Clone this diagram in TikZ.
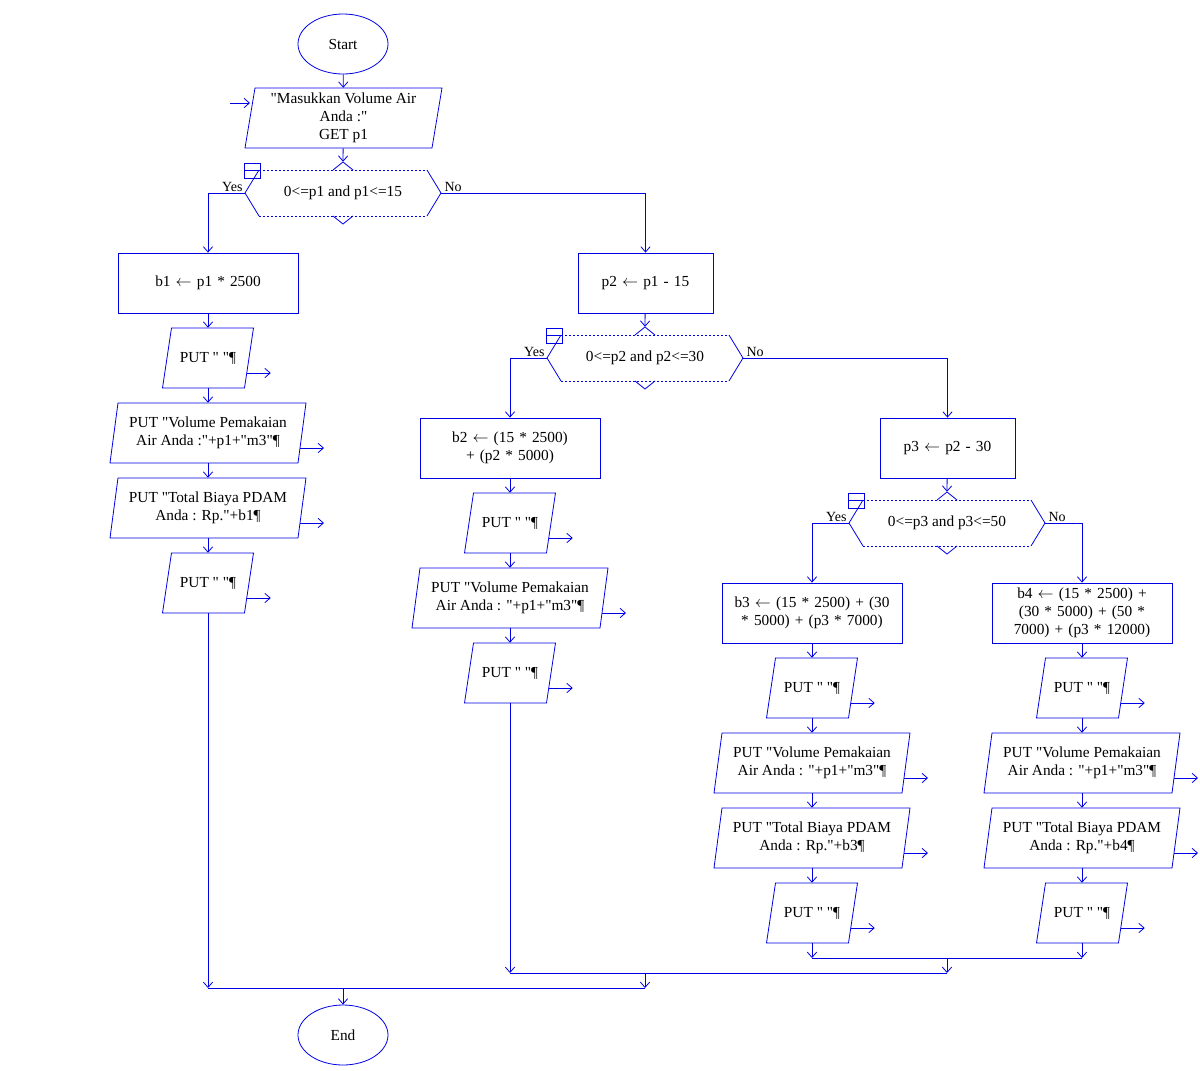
\documentclass[tikz,border=0pt]{standalone}
\usepackage{fontspec}
\setmainfont{Liberation Serif}[Ligatures=TeXOff]
\usetikzlibrary{shapes.geometric,arrows.meta,calc}
\begin{document}
\begin{tikzpicture}[x=0.75pt,y=-0.75pt,
  ln/.style={draw=blue!90!black,line width=0.6pt},
  arr/.style={ln,-{Straight Barb[length=4pt,width=7pt]}},
  txt/.style={inner sep=0pt,align=center,font=\fontsize{11.5}{13.5}\selectfont},
  lbl/.style={inner sep=0pt,font=\fontsize{10.5}{12}\selectfont}]
\useasboundingbox (0,0) rectangle (1200,1071);
\newcommand\pio[7]{%
 \node[txt,minimum width=#4*0.75pt,minimum height=#5*0.75pt] (#1) at (#2,#3) {#7};
 \draw[ln] ($(#2,#3)+({-#4/2+#6/2},{-#5/2})$) -- ($(#2,#3)+({#4/2+#6/2},{-#5/2})$)
   -- ($(#2,#3)+({#4/2-#6/2},{#5/2})$) -- ($(#2,#3)+({-#4/2-#6/2},{#5/2})$) -- cycle;}
\newcommand\pout[7]{\pio{#1}{#2}{#3}{#4}{#5}{#6}{#7}%
 \coordinate (#1o) at ($(#2,#3)+({#4/2-#6/4},15)$);
 \draw[arr] (#1o) -- ++(24,0);}
\newcommand\rbox[6]{\node[txt,ln,minimum width=#4*0.75pt,minimum height=#5*0.75pt,text width=(#4-8)*0.75pt] (#1) at (#2,#3) {#6};}
\newcommand\dec[4]{%
 \node[txt,minimum width=196*0.75pt,minimum height=62*0.75pt] (#1) at (#2,#3) {#4};
 \draw[ln,dash pattern=on 1.5pt off 1.5pt] ($(#2,#3)+(-84,-23)$) -- ($(#2,#3)+(84,-23)$);
 \draw[ln,dash pattern=on 1.5pt off 1.5pt] ($(#2,#3)+(-84,23)$) -- ($(#2,#3)+(84,23)$);
 \draw[ln] ($(#2,#3)+(-84,-23)$) -- ($(#2,#3)+(-98,0)$) -- ($(#2,#3)+(-84,23)$);
 \draw[ln] ($(#2,#3)+(84,-23)$) -- ($(#2,#3)+(98,0)$) -- ($(#2,#3)+(84,23)$);
 \draw[ln] ($(#2,#3)+(-10,-23)$) -- ($(#2,#3)+(0,-31)$) -- ($(#2,#3)+(10,-23)$);
 \draw[ln] ($(#2,#3)+(-10,23)$) -- ($(#2,#3)+(0,31)$) -- ($(#2,#3)+(10,23)$);
 \draw[ln] ($(#2,#3)+(-99,-30)$) rectangle ($(#2,#3)+(-83,-15)$);
 \draw[ln] ($(#2,#3)+(-99,-22.5)$) -- ($(#2,#3)+(-83,-22.5)$);
 \node[lbl,anchor=south east] at ($(#1.west)+(-2,-1)$) {Yes};
 \node[lbl,anchor=south west] at ($(#1.east)+(3,-1)$) {No};}
\def\pil{¶}
% start
\node[txt,ellipse,ln,minimum width=90*0.75pt,minimum height=60*0.75pt] (start) at (343,44) {Start};
\pio{in}{343.5}{118}{187}{60}{10}{"Masukkan Volume Air\\Anda :"\\GET p1}
\coordinate (entry) at (230,103);
\draw[arr] (entry) -- (250,103);
\draw[arr] (start) -- (in);
\dec{d1}{343}{193}{0<=p1 and p1<=15}
\draw[arr] (in) -- (d1.north);
% left column
\rbox{b1}{208}{283}{180}{60}{b1 $\leftarrow$ p1 * 2500}
\draw[arr] (d1.west) -| (b1.north);
\pout{l1}{208}{358}{82}{60}{9}{PUT " "\pil}
\pout{l2}{208}{433}{188}{60}{8}{PUT "Volume Pemakaian\\Air Anda :"+p1+"m3"\pil}
\pout{l3}{208}{508}{188}{60}{8}{PUT "Total Biaya PDAM\\Anda : Rp."+b1\pil}
\pout{l4}{208}{583}{82}{60}{9}{PUT " "\pil}
\draw[arr] (b1) -- (l1); \draw[arr] (l1) -- (l2); \draw[arr] (l2) -- (l3); \draw[arr] (l3) -- (l4);
% middle
\rbox{p2}{645.5}{283}{135}{60}{p2 $\leftarrow$ p1 - 15}
\draw[arr] (d1.east) -| (p2.north);
\dec{d2}{645}{358}{0<=p2 and p2<=30}
\draw[arr] (p2) -- (d2.north);
\rbox{b2}{510}{448}{180}{60}{b2 $\leftarrow$ (15 * 2500) + (p2 * 5000)}
\draw[arr] (d2.west) -| (b2.north);
\pout{m1}{510}{523}{82}{60}{9}{PUT " "\pil}
\pout{m2}{510}{598}{188}{60}{8}{PUT "Volume Pemakaian\\Air Anda : "+p1+"m3"\pil}
\pout{m3}{510}{673}{82}{60}{9}{PUT " "\pil}
\draw[arr] (b2) -- (m1); \draw[arr] (m1) -- (m2); \draw[arr] (m2) -- (m3);
% right
\rbox{p3}{947.5}{448}{135}{60}{p3 $\leftarrow$ p2 - 30}
\draw[arr] (d2.east) -| (p3.north);
\dec{d3}{947}{523}{0<=p3 and p3<=50}
\draw[arr] (p3) -- (d3.north);
\rbox{b3}{812}{613}{180}{60}{b3 $\leftarrow$ (15 * 2500) + (30 * 5000) + (p3 * 7000)}
\rbox{b4}{1082}{613}{180}{60}{b4 $\leftarrow$ (15 * 2500) + (30 * 5000) + (50 * 7000) + (p3 * 12000)}
\draw[arr] (d3.west) -| (b3.north);
\draw[arr] (d3.east) -| (b4.north);
\pout{r1}{812}{688}{82}{60}{9}{PUT " "\pil}
\pout{r2}{812}{763}{188}{60}{8}{PUT "Volume Pemakaian\\Air Anda : "+p1+"m3"\pil}
\pout{r3}{812}{838}{188}{60}{8}{PUT "Total Biaya PDAM\\Anda : Rp."+b3\pil}
\pout{r4}{812}{913}{82}{60}{9}{PUT " "\pil}
\draw[arr] (b3) -- (r1); \draw[arr] (r1) -- (r2); \draw[arr] (r2) -- (r3); \draw[arr] (r3) -- (r4);
\pout{s1}{1082}{688}{82}{60}{9}{PUT " "\pil}
\pout{s2}{1082}{763}{188}{60}{8}{PUT "Volume Pemakaian\\Air Anda : "+p1+"m3"\pil}
\pout{s3}{1082}{838}{188}{60}{8}{PUT "Total Biaya PDAM\\Anda : Rp."+b4\pil}
\pout{s4}{1082}{913}{82}{60}{9}{PUT " "\pil}
\draw[arr] (b4) -- (s1); \draw[arr] (s1) -- (s2); \draw[arr] (s2) -- (s3); \draw[arr] (s3) -- (s4);
% joins
\coordinate (j3l) at (812,958); \coordinate (j3r) at (1082,958); \coordinate (j3) at (947,958);
\coordinate (j2l) at (510,973); \coordinate (j2) at (947,973); \coordinate (j2m) at (645,973);
\coordinate (j1l) at (208,988); \coordinate (j1) at (645,988); \coordinate (j1m) at (343,988);
\draw[arr] (r4) -- (j3l); \draw[arr] (s4) -- (j3r); \draw[ln] (j3l) -- (j3r);
\draw[arr] (j3) -- (j2);
\draw[arr] (m3) -- (j2l); \draw[ln] (j2l) -- (j2);
\draw[arr] (j2m) -- (j1);
\draw[arr] (l4) -- (j1l); \draw[ln] (j1l) -- (j1);
\node[txt,ellipse,ln,minimum width=90*0.75pt,minimum height=60*0.75pt] (end) at (343,1035) {End};
\draw[arr] (j1m) -- (end);
\end{tikzpicture}
\end{document}
